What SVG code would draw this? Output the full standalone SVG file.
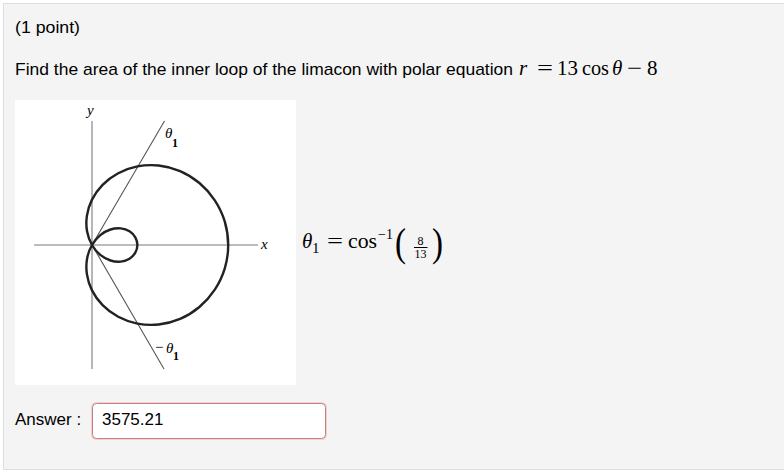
<svg xmlns="http://www.w3.org/2000/svg" width="784" height="473" viewBox="0 0 784 473">
<style>
.t{font-family:"Liberation Sans",Arial,sans-serif;font-size:17px;fill:#000}
.m{font-family:"Liberation Serif","Times New Roman",serif;fill:#000}
.i{font-style:italic}
.ax{stroke:#7a7a7a;stroke-width:1.1;fill:none}
.ray{stroke:#555;stroke-width:1.1;fill:none}
.curve{stroke:#222;stroke-width:2.4;fill:none;stroke-linejoin:round}
</style>
<rect x="0" y="0" width="784" height="473" fill="#ffffff"/>
<rect id="panel" x="3.5" y="3.5" width="790" height="466" fill="#f4f4f4" stroke="#dedede" stroke-width="1"/>

<g id="header">
<text class="t" x="15" y="33" textLength="65" lengthAdjust="spacingAndGlyphs">(1 point)</text>
<text class="t" x="15" y="75" textLength="498" lengthAdjust="spacingAndGlyphs">Find the area of the inner loop of the limacon with polar equation</text>
</g>

<g id="equation" class="m" font-size="21">
<text class="m i" x="519" y="75">r</text>
<text class="m" x="537" y="75" textLength="16" lengthAdjust="spacingAndGlyphs">=</text>
<text class="m" x="557" y="75">13</text>
<text class="m" x="582" y="75" textLength="27" lengthAdjust="spacingAndGlyphs">cos</text>
<text class="m i" x="612" y="75">θ</text>
<text class="m" x="627" y="75" textLength="15" lengthAdjust="spacingAndGlyphs">−</text>
<text class="m" x="647" y="75">8</text>
</g>

<g id="graph">
<rect x="15" y="100" width="281" height="285" fill="#ffffff"/>
<g id="axes">
<line class="ax" x1="92" y1="121" x2="92" y2="369"/>
<line class="ax" x1="34" y1="245" x2="258" y2="245"/>
</g>
<g id="connectors">
<line class="ray" x1="92" y1="245" x2="164.5" y2="121"/>
<line class="ray" x1="92" y1="245" x2="164" y2="369"/>
</g>
<g id="limacon">
<path class="curve" d="M228.2,245 C228.2,237.08 227.06,229.16 224.8,221.6 C222.54,214.04 219.1,206.83 214.8,200.3 C210.5,193.77 205.3,187.93 199.4,183.0 C193.5,178.07 187.0,174.04 180.1,171.1 C173.2,168.16 165.92,166.28 158.7,165.5 C151.48,164.72 144.26,165.08 137.4,166.4 C130.54,167.72 124.08,170.06 118.2,173.2 C112.32,176.34 107.01,180.3 102.6,184.8 C98.19,189.3 94.64,194.32 92,199.6 C89.36,204.88 87.69,210.38 86.9,215.8 C86.11,221.22 86.19,226.55 87.1,231.5 C88.01,236.45 89.71,241.04 92,245 C94.29,248.96 97.12,252.29 100.3,254.9 C103.48,257.51 107.0,259.39 110.5,260.5 C114.0,261.61 117.55,261.95 120.8,261.6 C124.05,261.25 127.01,260.26 129.5,258.7 C131.99,257.14 133.95,254.96 135.3,252.6 C136.65,250.24 137.4,247.64 137.4,245 C137.4,242.36 136.65,239.76 135.3,237.4 C133.95,235.04 131.99,232.86 129.5,231.3 C127.01,229.74 124.05,228.75 120.8,228.4 C117.55,228.05 114.0,228.39 110.5,229.5 C107.0,230.61 103.48,232.49 100.3,235.1 C97.12,237.71 94.29,241.04 92,245 C89.71,248.96 88.01,253.55 87.1,258.5 C86.19,263.45 86.11,268.78 86.9,274.2 C87.69,279.62 89.36,285.12 92,290.4 C94.64,295.68 98.19,300.7 102.6,305.2 C107.01,309.7 112.32,313.66 118.2,316.8 C124.08,319.94 130.54,322.28 137.4,323.6 C144.26,324.92 151.48,325.28 158.7,324.5 C165.92,323.72 173.2,321.84 180.1,318.9 C187.0,315.96 193.5,311.93 199.4,307.0 C205.3,302.07 210.5,296.23 214.8,289.7 C219.1,283.17 222.54,275.96 224.8,268.4 C227.06,260.84 228.2,252.92 228.2,245 Z"/>
</g>
<g id="labels" fill="#222">
<text class="m i" x="87" y="115" font-size="15">y</text>
<text class="m i" x="261" y="249" font-size="15">x</text>
<text class="m i" x="165" y="138" font-size="15">θ</text>
<text class="m" x="172" y="147" font-size="12" font-weight="bold">1</text>
<text class="m" x="155" y="352" font-size="15">−</text>
<text class="m i" x="166" y="353" font-size="15">θ</text>
<text class="m" x="173" y="360" font-size="12" font-weight="bold">1</text>
</g>
</g>

<g id="formula">
<text class="m i" x="302" y="248" font-size="21">θ</text>
<text class="m" x="312" y="253" font-size="15">1</text>
<text class="m" x="327" y="248" font-size="21" textLength="16" lengthAdjust="spacingAndGlyphs">=</text>
<text class="m" x="348" y="248" font-size="21" textLength="29" lengthAdjust="spacingAndGlyphs">cos</text>
<text class="m" x="378" y="239" font-size="14">−1</text>
<text class="m" x="395" y="256" font-size="41" textLength="11" lengthAdjust="spacingAndGlyphs">(</text>
<text class="m" x="420.5" y="244.5" font-size="12" text-anchor="middle">8</text>
<line x1="414" y1="247.5" x2="427.5" y2="247.5" stroke="#000" stroke-width="1"/>
<text class="m" x="420.5" y="257.5" font-size="12" text-anchor="middle">13</text>
<text class="m" x="432" y="256" font-size="41" textLength="11" lengthAdjust="spacingAndGlyphs">)</text>
</g>

<g id="answer">
<text class="t" x="15" y="425">Answer :</text>
<rect x="92.5" y="403.5" width="233" height="35" rx="4" fill="#ffffff" stroke="#e8bcbc" stroke-width="3" opacity="0.6"/>
<rect x="92.5" y="403.5" width="233" height="35" rx="4" fill="#ffffff" stroke="#cc7d7d" stroke-width="1"/>
<text class="t" x="102" y="425">3575.21</text>
</g>
</svg>
